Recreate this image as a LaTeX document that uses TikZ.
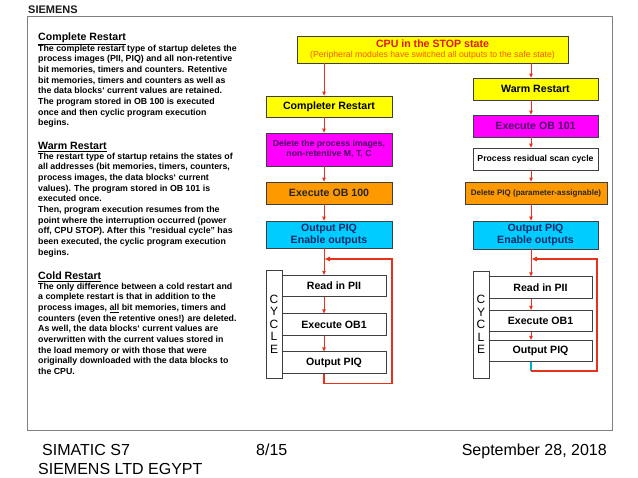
\documentclass[tikz,border=0pt]{standalone}
\usepackage{fontspec}
\setmainfont{Liberation Sans}
\usetikzlibrary{arrows.meta}
\definecolor{boxline}{HTML}{3F3F3F}
\definecolor{arrowred}{HTML}{E8311A}
\definecolor{framegray}{HTML}{808080}
\definecolor{fillyellow}{HTML}{FFFF00}
\definecolor{fillmagenta}{HTML}{FF00FF}
\definecolor{fillorange}{HTML}{FF9900}
\definecolor{fillcyan}{HTML}{00CCFF}
\definecolor{cputext}{HTML}{E3170A}
\definecolor{cpusub}{HTML}{FF5500}
\definecolor{deltext}{HTML}{4A0060}
\definecolor{piqtext}{HTML}{0A2A66}
\definecolor{loopcyan}{HTML}{00B0C8}
\begin{document}
\begin{tikzpicture}[x=1pt,y=-1pt,every node/.style={inner sep=0pt},
	box/.style={draw=boxline,line width=0.8pt,align=center,font=\fontsize{10.6}{12}\selectfont\bfseries},
	small/.style={font=\fontsize{8.7}{10}\selectfont\bfseries},
	cyc/.style={box,fill=white,minimum width=104pt,minimum height=21.5pt},
	cycletag/.style={box,fill=white,minimum width=16pt,font=\fontsize{12}{12.5}\selectfont},
	flow/.style={arrowred,line width=0.9pt,-{Triangle[length=4pt,width=3.6pt]}},
	back/.style={arrowred,line width=1.6pt},
	head/.style={anchor=base west,font=\fontsize{10.6}{12}\selectfont\bfseries},
	body/.style={anchor=north west,align=left,font=\fontsize{8.8}{10.7}\selectfont\bfseries},
	foot/.style={font=\fontsize{16}{19}\selectfont}]
		\fill[white] (0,0) rectangle (638,478);
		\useasboundingbox (0,0) rectangle (638,478);
		\draw[framegray,line width=0.7pt] (27,16) rectangle (612,430);
		\node[anchor=base west,font=\fontsize{11}{13}\selectfont\bfseries,text=black!90] (logo) at (28,13.8) {SIEMENS};
		% left column of text
		\node[head] (hcomp) at (38,40.5) {\underline{Complete Restart}};
		\node[body] (bcomp) at (38,44.5) {The complete restart type of startup deletes the\\
			process images (PII, PIQ) and all non-retentive\\
			bit memories, timers and counters. Retentive\\
			bit memories, timers and counters as well as\\
			the data blocks‘ current values are retained.\\
			The program stored in OB 100 is executed\\
			once and then cyclic program execution\\
			begins.};
		\node[head] (hwarm) at (38,149.5) {\underline{Warm Restart}};
		\node[body] (bwarm) at (38,152.5) {The restart type of startup retains the states of\\
			all addresses (bit memories, timers, counters,\\
			process images, the data blocks‘ current\\
			values). The program stored in OB 101 is\\
			executed once.\\
			Then, program execution resumes from the\\
			point where the interruption occurred (power\\
			off, CPU STOP). After this "residual cycle" has\\
			been executed, the cyclic program execution\\
			begins.};
		\node[head] (hcold) at (38,279.5) {\underline{Cold Restart}};
		\node[body] (bcold) at (38,282.5) {The only difference between a cold restart and\\
			a complete restart is that in addition to the\\
			process images, \underline{all} bit memories, timers and\\
			counters (even the retentive ones!) are deleted.\\
			As well, the data blocks‘ current values are\\
			overwritten with the current values stored in\\
			the load memory or with those that were\\
			originally downloaded with the data blocks to\\
			the CPU.};
		% flow chart
		\node[box,fill=fillyellow,minimum width=271pt,minimum height=27pt] (cpu) at (432.5,49.5) {\textcolor{cputext}{CPU in the STOP state}\\[-1.5pt]
			{\fontsize{8.7}{10}\selectfont\mdseries\textcolor{cpusub}{(Peripheral modules have switched all outputs to the safe state)}}};
		\node[box,fill=fillyellow,minimum width=126pt,minimum height=21pt] (crs) at (329,106.5) {Completer Restart};
		\node[box,small,fill=fillmagenta,text=deltext,minimum width=126pt,minimum height=33pt] (dels) at (329,149.5) {Delete the process images,\\non-retentive M, T, C};
		\node[box,fill=fillorange,text=black!85,minimum width=126pt,minimum height=22pt] (ob100) at (329,193) {Execute OB 100};
		\node[box,fill=fillcyan,text=piqtext,minimum width=126pt,minimum height=27pt] (outl) at (329,234.5) {Output PIQ\\Enable outputs};
		\node[cycletag,minimum height=108pt] (cycl) at (274,324) {C\\Y\\C\\L\\E};
		\node[cyc] (readl) at (334,286) {Read in PII};
		\node[cyc] (exl) at (334,324.5) {Execute OB1};
		\node[cyc] (piql) at (334,362.5) {Output PIQ};
		\node[box,fill=fillyellow,minimum width=125pt,minimum height=22pt] (wrs) at (535.5,89) {Warm Restart};
		\node[box,fill=fillmagenta,text=deltext,minimum width=125pt,minimum height=22pt] (ob101) at (535.5,126) {Execute OB 101};
		\node[box,small,fill=white,minimum width=125pt,minimum height=22pt] (res) at (535.5,159) {Process residual scan cycle};
		\node[box,fill=fillorange,text=black!85,font=\fontsize{8}{9.6}\selectfont\bfseries,minimum width=142pt,minimum height=22pt] (dpiq) at (536,193) {Delete PIQ (parameter-assignable)};
		\node[box,fill=fillcyan,text=piqtext,minimum width=125pt,minimum height=28pt] (outr) at (535.5,235) {Output PIQ\\Enable outputs};
		\node[cycletag,minimum height=107pt] (cycr) at (481,324.5) {C\\Y\\C\\L\\E};
		\node[cyc,minimum width=103pt] (readr) at (540.5,287.5) {Read in PII};
		\node[cyc,minimum width=103pt] (exr) at (540.5,321) {Execute OB1};
		\node[cyc,minimum width=103pt] (piqr) at (540.5,351) {Output PIQ};
		\coordinate (axl) at (324,0);
		\coordinate (axr) at (531,0);
		\coordinate (retl) at (392,259);
		\coordinate (retr) at (597,259);
		\foreach \a/\b in {cpu/crs,crs/dels,dels/ob100,ob100/outl,outl/readl,readl/exl,exl/piql}
			\draw[flow] (\a.south -| axl) -- (\b.north -| axl);
		\foreach \a/\b in {cpu/wrs,wrs/ob101,ob101/res,res/dpiq,dpiq/outr,outr/readr,readr/exr,exr/piqr}
			\draw[flow] (\a.south -| axr) -- (\b.north -| axr);
		% cycle return lines
		\draw[back,-{Triangle[length=5pt,width=4.5pt]},shorten >=1pt] (piql.south -| axl) -- ++(0,10) -| (retl) -- (retl -| axl);
		\draw[loopcyan,line width=1.2pt] (piqr.south -| axr) -- ++(0,9) coordinate (bendr);
		\draw[back,-{Triangle[length=5pt,width=4.5pt]},shorten >=1pt] (bendr) -| (retr) -- (retr -| axr);
		% footer
		\node[foot,anchor=base west] (sim) at (42,456) {SIMATIC S7};
		\node[foot,anchor=base west] (ltd) at (38,474.5) {SIEMENS LTD EGYPT};
		\node[foot,anchor=base west] (page) at (256,456) {8/15};
		\node[foot,anchor=base east] (date) at (607,456) {September 28, 2018};
\end{tikzpicture}
\end{document}
